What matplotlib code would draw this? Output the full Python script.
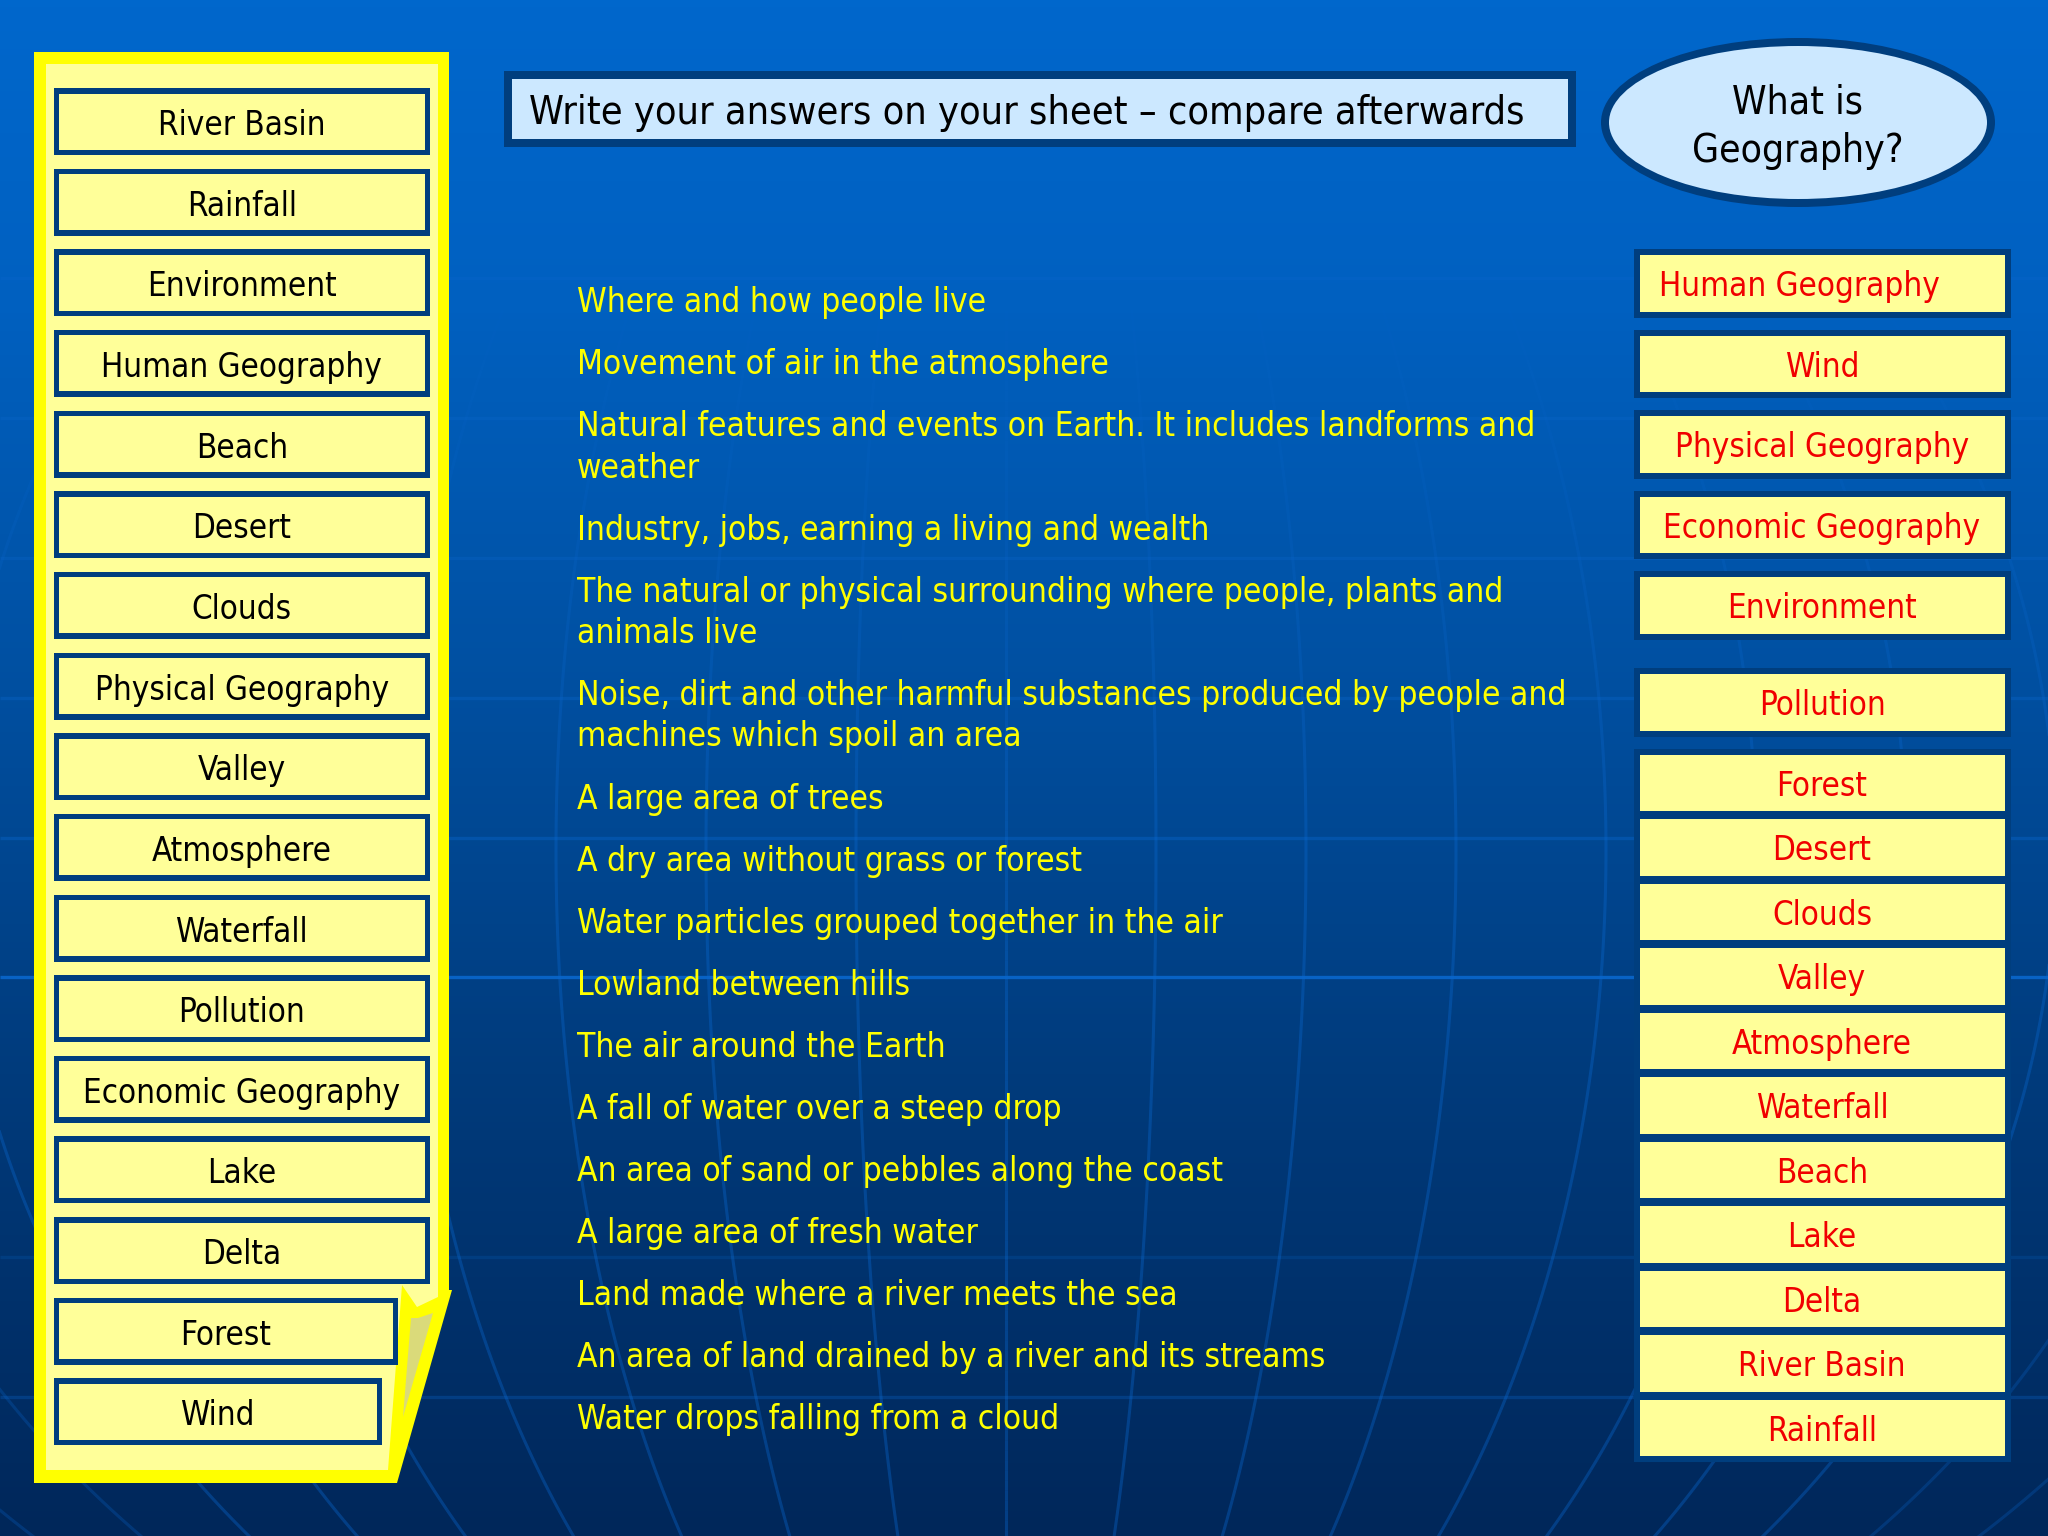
import numpy as np
import matplotlib
matplotlib.use("Agg")
import matplotlib.pyplot as plt
from matplotlib.patches import Rectangle, Ellipse, Polygon
from matplotlib.collections import LineCollection
from matplotlib.colors import LinearSegmentedColormap, to_rgb

word_bank = ["River Basin", "Rainfall", "Environment", "Human Geography", "Beach", "Desert",
             "Clouds", "Physical Geography", "Valley", "Atmosphere", "Waterfall", "Pollution",
             "Economic Geography", "Lake", "Delta", "Forest", "Wind"]
definitions = [
    ["Where and how people live"],
    ["Movement of air in the atmosphere"],
    ["Natural features and events on Earth. It includes landforms and", "weather"],
    ["Industry, jobs, earning a living and wealth"],
    ["The natural or physical surrounding where people, plants and", "animals live"],
    ["Noise, dirt and other harmful substances produced by people and", "machines which spoil an area"],
    ["A large area of trees"],
    ["A dry area without grass or forest"],
    ["Water particles grouped together in the air"],
    ["Lowland between hills"],
    ["The air around the Earth"],
    ["A fall of water over a steep drop"],
    ["An area of sand or pebbles along the coast"],
    ["A large area of fresh water"],
    ["Land made where a river meets the sea"],
    ["An area of land drained by a river and its streams"],
    ["Water drops falling from a cloud"],
]
answers_top = ["Human Geography", "Wind", "Physical Geography", "Economic Geography", "Environment"]
answers_rest = ["Pollution", "Forest", "Desert", "Clouds", "Valley", "Atmosphere", "Waterfall",
                "Beach", "Lake", "Delta", "River Basin", "Rainfall"]
title_text = "Write your answers on your sheet \u2013 compare afterwards"
oval_lines = ["What is", "Geography?"]

FONT = dict(family="DejaVu Sans", stretch="condensed")

PALE = "#FFFF99"
BORDER = "#003E7E"
YEL = "#FFFF00"
H = 1536
W = 2048

fig = plt.figure(figsize=(20.48, 15.36), dpi=100)
ax = fig.add_axes([0, 0, 1, 1])
ax.set_xlim(0, W)
ax.set_ylim(H, 0)
ax.axis("off")

# background
cmap = LinearSegmentedColormap.from_list("bg", [(0, "#0067CC"), (0.2, "#0060C0"), (0.45, "#004FA0"),
                                                (0.7, "#003B7C"), (1, "#00275A")])
ax.imshow(np.linspace(0, 1, 512)[:, None], extent=(0, W, H, 0), cmap=cmap, aspect="auto", zorder=0)

line_rgb = to_rgb("#0A66CC")
for yy, a in zip([278, 418, 558, 698, 838, 977, 1257, 1397],
                 [.3, .3, .3, .35, .4, .9, .2, .3]):
    ax.plot([0, W], [yy, yy], color=line_rgb, alpha=a, lw=2.4, zorder=1, solid_capstyle="butt")
ys = np.arange(150, H + 10, 10.0)
y0, R, xc = 850.0, 990.0, 1006.0
for k in range(-9, 10):
    off = 150.0 * k * np.sqrt(1 - ((ys - y0) / R) ** 2)
    pts = np.column_stack([xc + off, ys])
    segs = np.stack([pts[:-1], pts[1:]], axis=1)
    al = np.clip((ys[:-1] - 150) / 1800, 0.03, 0.38) * (0.7 if abs(k) >= 8 else 1.0)
    cols = [(*line_rgb, v) for v in al]
    ax.add_collection(LineCollection(segs, colors=cols, linewidths=2.2, zorder=1))

# left panel
ax.add_patch(Polygon([(34, 52), (449, 52), (449, 1290), (452, 1290), (397, 1483), (34, 1483)],
                     fc=YEL, ec="none", zorder=2))
ax.add_patch(Polygon([(46, 64), (438, 64), (438, 1297), (417, 1307), (402, 1285), (388, 1470), (46, 1470)],
                     fc=PALE, ec="none", zorder=3))
ax.add_patch(Polygon([(411, 1318), (418, 1318), (433, 1313), (403, 1417)],
                     fc="#DADA7A", ec="none", zorder=3))


def box(x0, x1, y0_, y1, bw, face=PALE, edge=BORDER):
    ax.add_patch(Rectangle((x0, y0_), x1 - x0, y1 - y0_, fc=edge, ec="none", zorder=4))
    ax.add_patch(Rectangle((x0 + bw, y0_ + bw), x1 - x0 - 2 * bw, y1 - y0_ - 2 * bw, fc=face, ec="none", zorder=5))


LEFT_SIZE = 23.8
DEF_SIZE = 24.0
for i, lab in enumerate(word_bank):
    top = 88 + 80.65 * i
    x1 = 430
    if lab == "Forest":
        x1 = 398
    if lab == "Wind":
        x1 = 382
    box(53.5, x1, top, top + 67, 5.5)
    ax.text((53.5 + x1) / 2, top + 47, lab, color="black", fontsize=LEFT_SIZE, ha="center", va="baseline",
            zorder=6, **FONT)

# title
box(504, 1576, 71, 147, 8, face="#CCE8FF")
ax.text(529, 124, title_text, color="black", fontsize=28.4, ha="left", va="baseline", zorder=6, **FONT)

# oval
ax.add_patch(Ellipse((1798, 122.5), 394, 169, fc=BORDER, ec="none", zorder=4))
ax.add_patch(Ellipse((1798, 122.5), 378, 153, fc="#CCE8FF", ec="none", zorder=5))
ax.text(1798, 114, oval_lines[0], color="black", fontsize=28, ha="center", va="baseline", zorder=6, **FONT)
ax.text(1798, 162, oval_lines[1], color="black", fontsize=28, ha="center", va="baseline", zorder=6, **FONT)

# definitions
yb = 312.0
for para in definitions:
    for j, ln in enumerate(para):
        ax.text(577, yb + 41.3 * j, ln, color=YEL, fontsize=DEF_SIZE, ha="left", va="baseline", zorder=6, **FONT)
    yb += 41.3 * (len(para) - 1) + 62.1

# answers
for i, lab in enumerate(answers_top):
    top = 255 + 80.6 * i
    box(1634, 2011, top - 6, top + 62.5, 6)
    if i == 0:
        ax.text(1659, top + 41, lab, color="#F00000", fontsize=LEFT_SIZE, ha="left", va="baseline", zorder=6, **FONT)
    else:
        ax.text(1822, top + 41, lab, color="#F00000", fontsize=LEFT_SIZE, ha="center", va="baseline", zorder=6, **FONT)
for i, lab in enumerate(answers_rest):
    top = 674 + 80.6 * min(i, 1) + 64.5 * max(i - 1, 0)
    box(1634, 2011, top - 6, top + 62.5, 6)
for i, lab in enumerate(answers_rest):
    top = 674 + 80.6 * min(i, 1) + 64.5 * max(i - 1, 0)
    ax.add_patch(Rectangle((1640, top), 365, 56.5, fc=PALE, ec="none", zorder=5))
    ax.text(1822, top + 41, lab, color="#F00000", fontsize=LEFT_SIZE, ha="center", va="baseline", zorder=6, **FONT)

fig.savefig("out.png", dpi=100)
